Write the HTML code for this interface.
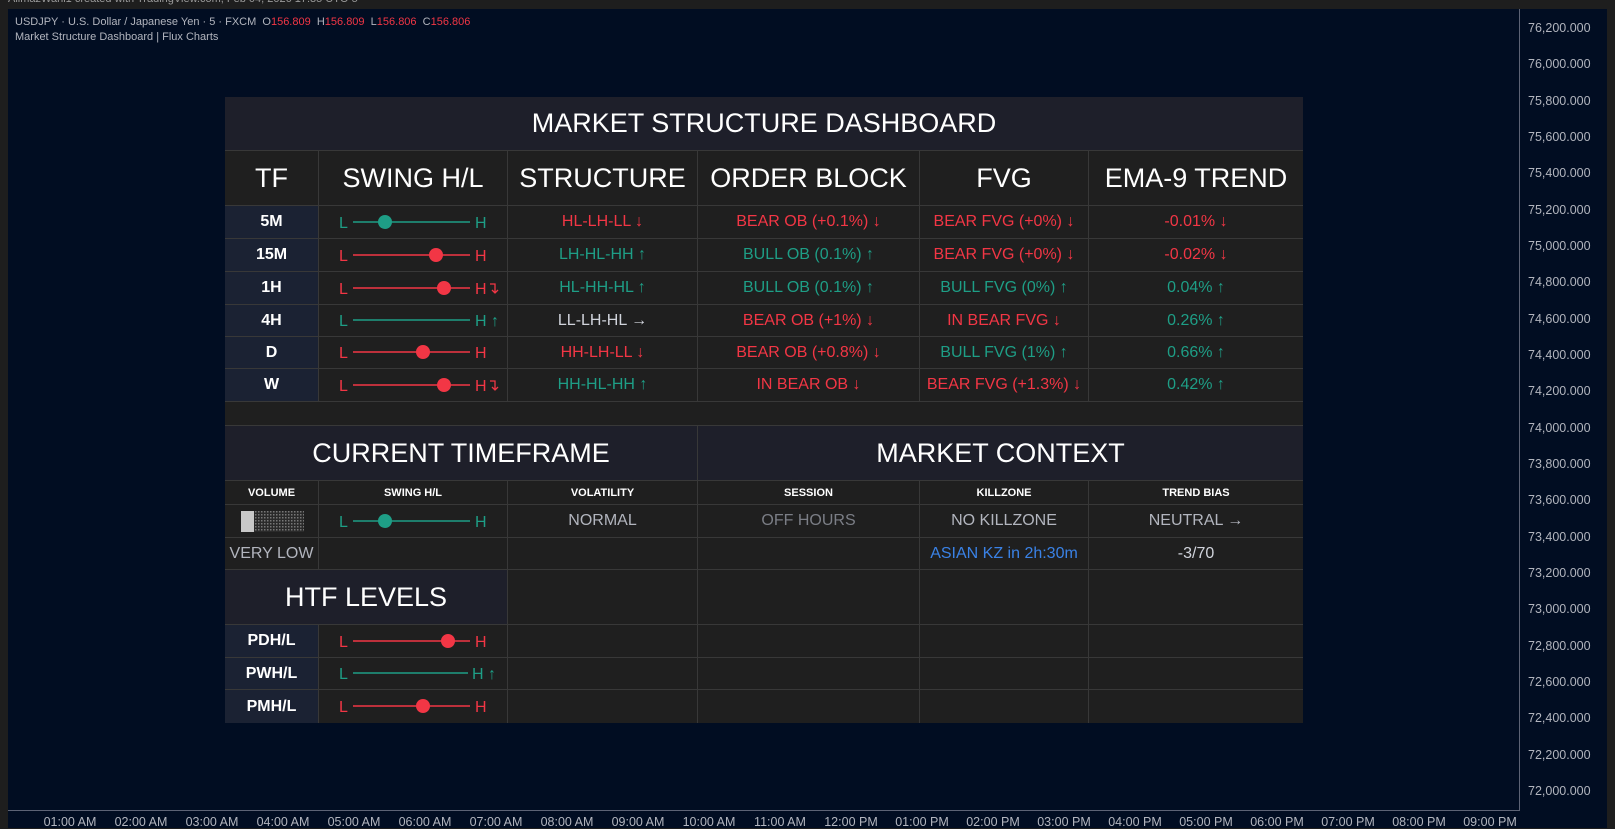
<!DOCTYPE html>
<html><head><meta charset="utf-8"><style>
*{margin:0;padding:0;box-sizing:border-box}
body{width:1615px;height:828px;background:#1e1e1e;position:relative;overflow:hidden;font-family:"Liberation Sans","DejaVu Sans",sans-serif}
.chart{position:absolute;left:8px;top:9px;width:1599px;height:819px;background:#010d22}
.vax{position:absolute;left:1519px;top:9px;width:1px;height:802px;background:#5d6375}
.hax{position:absolute;left:8px;top:810px;width:1511px;height:1px;background:#5d6375}
.pl{position:absolute;left:1528px;color:#b2b5be;font-size:12.5px}
.tl{position:absolute;top:815px;color:#b2b5be;font-size:12.5px;width:80px;text-align:center}
.leg{position:absolute;left:15px;color:#b2b5be;font-size:11px;white-space:nowrap}
.r{color:#f23645}
#t{position:absolute;left:225px;top:97px;width:1078px;height:626px;background:#383838}
.c{position:absolute;background:#1f1f1f;display:flex;align-items:center;justify-content:center;font-size:16px;color:#b2b5be;white-space:nowrap}
.hd{background:#1e1f2a;color:#fff;font-size:27px}
.h2{color:#fff;font-size:27px}
.tf{background:#1b2233;color:#fff;font-weight:bold;font-size:16px}
.sb{color:#fff;font-size:11px;font-weight:bold}
.R{color:#f23645}.G{color:#1e9e86}.W{color:#d1d4dc}.B{color:#3a82e6}
svg text{font-family:"Liberation Sans",sans-serif;font-size:16px}
</style></head><body>
<div style="position:absolute;left:8px;top:-7px;color:#9a9a9a;font-size:11px">AlimazWani1 created with TradingView.com, Feb 04, 2026 17:35 UTC-5</div>
<div class="chart"></div>
<div class="vax"></div><div class="hax"></div>
<div class="leg" style="top:16px">USDJPY · U.S. Dollar / Japanese Yen · 5 · FXCM &nbsp;O<span class="r">156.809</span> &nbsp;H<span class="r">156.809</span> &nbsp;L<span class="r">156.806</span> &nbsp;C<span class="r">156.806</span></div>
<div class="leg" style="top:31px">Market Structure Dashboard | Flux Charts</div>

<div class="pl" style="top:21px">76,200.000</div>
<div class="pl" style="top:57px">76,000.000</div>
<div class="pl" style="top:94px">75,800.000</div>
<div class="pl" style="top:130px">75,600.000</div>
<div class="pl" style="top:166px">75,400.000</div>
<div class="pl" style="top:203px">75,200.000</div>
<div class="pl" style="top:239px">75,000.000</div>
<div class="pl" style="top:275px">74,800.000</div>
<div class="pl" style="top:312px">74,600.000</div>
<div class="pl" style="top:348px">74,400.000</div>
<div class="pl" style="top:384px">74,200.000</div>
<div class="pl" style="top:421px">74,000.000</div>
<div class="pl" style="top:457px">73,800.000</div>
<div class="pl" style="top:493px">73,600.000</div>
<div class="pl" style="top:530px">73,400.000</div>
<div class="pl" style="top:566px">73,200.000</div>
<div class="pl" style="top:602px">73,000.000</div>
<div class="pl" style="top:639px">72,800.000</div>
<div class="pl" style="top:675px">72,600.000</div>
<div class="pl" style="top:711px">72,400.000</div>
<div class="pl" style="top:748px">72,200.000</div>
<div class="pl" style="top:784px">72,000.000</div>

<div class="tl" style="left:30px">01:00 AM</div>
<div class="tl" style="left:101px">02:00 AM</div>
<div class="tl" style="left:172px">03:00 AM</div>
<div class="tl" style="left:243px">04:00 AM</div>
<div class="tl" style="left:314px">05:00 AM</div>
<div class="tl" style="left:385px">06:00 AM</div>
<div class="tl" style="left:456px">07:00 AM</div>
<div class="tl" style="left:527px">08:00 AM</div>
<div class="tl" style="left:598px">09:00 AM</div>
<div class="tl" style="left:669px">10:00 AM</div>
<div class="tl" style="left:740px">11:00 AM</div>
<div class="tl" style="left:811px">12:00 PM</div>
<div class="tl" style="left:882px">01:00 PM</div>
<div class="tl" style="left:953px">02:00 PM</div>
<div class="tl" style="left:1024px">03:00 PM</div>
<div class="tl" style="left:1095px">04:00 PM</div>
<div class="tl" style="left:1166px">05:00 PM</div>
<div class="tl" style="left:1237px">06:00 PM</div>
<div class="tl" style="left:1308px">07:00 PM</div>
<div class="tl" style="left:1379px">08:00 PM</div>
<div class="tl" style="left:1450px">09:00 PM</div>

<div id="t">
<div class="c hd" style="left:0;top:0;width:1078px;height:53px">MARKET STRUCTURE DASHBOARD</div>
<div class="c h2" style="left:0;top:54px;width:93px;height:54px">TF</div>
<div class="c h2" style="left:94px;top:54px;width:188px;height:54px">SWING H/L</div>
<div class="c h2" style="left:283px;top:54px;width:189px;height:54px">STRUCTURE</div>
<div class="c h2" style="left:473px;top:54px;width:221px;height:54px">ORDER BLOCK</div>
<div class="c h2" style="left:695px;top:54px;width:168px;height:54px">FVG</div>
<div class="c h2" style="left:864px;top:54px;width:214px;height:54px">EMA-9 TREND</div>

<div class="c tf" style="left:0;top:109px;width:93px;height:32px">5M</div>
<div class="c" style="left:94px;top:109px;width:188px;height:32px"><svg width="188" height="32"><text x="20" y="22" fill="#1e9e86">L</text><line x1="34" y1="16" x2="151" y2="16" stroke="#1e9e86" stroke-width="1.5"/><circle cx="66" cy="16" r="7" fill="#1e9e86"/><text x="156" y="22" fill="#1e9e86">H</text></svg></div>
<div class="c R" style="left:283px;top:109px;width:189px;height:32px">HL-LH-LL ↓</div>
<div class="c R" style="left:473px;top:109px;width:221px;height:32px">BEAR OB (+0.1%) ↓</div>
<div class="c R" style="left:695px;top:109px;width:168px;height:32px">BEAR FVG (+0%) ↓</div>
<div class="c R" style="left:864px;top:109px;width:214px;height:32px">-0.01% ↓</div>

<div class="c tf" style="left:0;top:142px;width:93px;height:32px">15M</div>
<div class="c" style="left:94px;top:142px;width:188px;height:32px"><svg width="188" height="32"><text x="20" y="22" fill="#f23645">L</text><line x1="34" y1="16" x2="151" y2="16" stroke="#f23645" stroke-width="1.5"/><circle cx="117" cy="16" r="7" fill="#f23645"/><text x="156" y="22" fill="#f23645">H</text></svg></div>
<div class="c G" style="left:283px;top:142px;width:189px;height:32px">LH-HL-HH ↑</div>
<div class="c G" style="left:473px;top:142px;width:221px;height:32px">BULL OB (0.1%) ↑</div>
<div class="c R" style="left:695px;top:142px;width:168px;height:32px">BEAR FVG (+0%) ↓</div>
<div class="c R" style="left:864px;top:142px;width:214px;height:32px">-0.02% ↓</div>

<div class="c tf" style="left:0;top:175px;width:93px;height:32px">1H</div>
<div class="c" style="left:94px;top:175px;width:188px;height:32px"><svg width="188" height="32"><text x="20" y="22" fill="#f23645">L</text><line x1="34" y1="16" x2="151" y2="16" stroke="#f23645" stroke-width="1.5"/><circle cx="125" cy="16" r="7" fill="#f23645"/><text x="156" y="22" fill="#f23645">H</text><path d="M171 12 H176 V21 M173 18 L176 21 L179 18" stroke="#f23645" stroke-width="1.3" fill="none"/></svg></div>
<div class="c G" style="left:283px;top:175px;width:189px;height:32px">HL-HH-HL ↑</div>
<div class="c G" style="left:473px;top:175px;width:221px;height:32px">BULL OB (0.1%) ↑</div>
<div class="c G" style="left:695px;top:175px;width:168px;height:32px">BULL FVG (0%) ↑</div>
<div class="c G" style="left:864px;top:175px;width:214px;height:32px">0.04% ↑</div>

<div class="c tf" style="left:0;top:208px;width:93px;height:31px">4H</div>
<div class="c" style="left:94px;top:208px;width:188px;height:31px"><svg width="188" height="31"><text x="20" y="21" fill="#1e9e86">L</text><line x1="34" y1="15" x2="151" y2="15" stroke="#1e9e86" stroke-width="1.5"/><text x="156" y="21" fill="#1e9e86">H ↑</text></svg></div>
<div class="c W" style="left:283px;top:208px;width:189px;height:31px">LL-LH-HL →</div>
<div class="c R" style="left:473px;top:208px;width:221px;height:31px">BEAR OB (+1%) ↓</div>
<div class="c R" style="left:695px;top:208px;width:168px;height:31px">IN BEAR FVG ↓</div>
<div class="c G" style="left:864px;top:208px;width:214px;height:31px">0.26% ↑</div>

<div class="c tf" style="left:0;top:240px;width:93px;height:31px">D</div>
<div class="c" style="left:94px;top:240px;width:188px;height:31px"><svg width="188" height="31"><text x="20" y="21" fill="#f23645">L</text><line x1="34" y1="15" x2="151" y2="15" stroke="#f23645" stroke-width="1.5"/><circle cx="104" cy="15" r="7" fill="#f23645"/><text x="156" y="21" fill="#f23645">H</text></svg></div>
<div class="c R" style="left:283px;top:240px;width:189px;height:31px">HH-LH-LL ↓</div>
<div class="c R" style="left:473px;top:240px;width:221px;height:31px">BEAR OB (+0.8%) ↓</div>
<div class="c G" style="left:695px;top:240px;width:168px;height:31px">BULL FVG (1%) ↑</div>
<div class="c G" style="left:864px;top:240px;width:214px;height:31px">0.66% ↑</div>

<div class="c tf" style="left:0;top:272px;width:93px;height:32px">W</div>
<div class="c" style="left:94px;top:272px;width:188px;height:32px"><svg width="188" height="32"><text x="20" y="22" fill="#f23645">L</text><line x1="34" y1="16" x2="151" y2="16" stroke="#f23645" stroke-width="1.5"/><circle cx="125" cy="16" r="7" fill="#f23645"/><text x="156" y="22" fill="#f23645">H</text><path d="M171 12 H176 V21 M173 18 L176 21 L179 18" stroke="#f23645" stroke-width="1.3" fill="none"/></svg></div>
<div class="c G" style="left:283px;top:272px;width:189px;height:32px">HH-HL-HH ↑</div>
<div class="c R" style="left:473px;top:272px;width:221px;height:32px">IN BEAR OB ↓</div>
<div class="c R" style="left:695px;top:272px;width:168px;height:32px">BEAR FVG (+1.3%) ↓</div>
<div class="c G" style="left:864px;top:272px;width:214px;height:32px">0.42% ↑</div>

<div class="c" style="left:0;top:305px;width:1078px;height:23px"></div>

<div class="c hd" style="left:0;top:329px;width:472px;height:54px">CURRENT TIMEFRAME</div>
<div class="c hd" style="left:473px;top:329px;width:605px;height:54px">MARKET CONTEXT</div>

<div class="c sb" style="left:0;top:384px;width:93px;height:23px">VOLUME</div>
<div class="c sb" style="left:94px;top:384px;width:188px;height:23px">SWING H/L</div>
<div class="c sb" style="left:283px;top:384px;width:189px;height:23px">VOLATILITY</div>
<div class="c sb" style="left:473px;top:384px;width:221px;height:23px">SESSION</div>
<div class="c sb" style="left:695px;top:384px;width:168px;height:23px">KILLZONE</div>
<div class="c sb" style="left:864px;top:384px;width:214px;height:23px">TREND BIAS</div>

<div class="c" style="left:0;top:408px;width:93px;height:32px"><svg width="93" height="32"><defs><pattern id="p" width="3" height="3" patternUnits="userSpaceOnUse"><rect width="3" height="3" fill="#2a2a2a"/><rect width="1.5" height="1.5" fill="#777"/></pattern></defs><rect x="16" y="6" width="13" height="21" fill="#c8c8c8"/><rect x="29" y="6" width="50" height="21" fill="url(#p)"/></svg></div>
<div class="c" style="left:94px;top:408px;width:188px;height:32px"><svg width="188" height="32"><text x="20" y="22" fill="#1e9e86">L</text><line x1="34" y1="16" x2="151" y2="16" stroke="#1e9e86" stroke-width="1.5"/><circle cx="66" cy="16" r="7" fill="#1e9e86"/><text x="156" y="22" fill="#1e9e86">H</text></svg></div>
<div class="c" style="left:283px;top:408px;width:189px;height:32px">NORMAL</div>
<div class="c" style="left:473px;top:408px;width:221px;height:32px;color:#7b7e86">OFF HOURS</div>
<div class="c" style="left:695px;top:408px;width:168px;height:32px">NO KILLZONE</div>
<div class="c" style="left:864px;top:408px;width:214px;height:32px">NEUTRAL →</div>

<div class="c" style="left:0;top:441px;width:93px;height:31px">VERY LOW</div>
<div class="c" style="left:94px;top:441px;width:188px;height:31px"></div>
<div class="c" style="left:283px;top:441px;width:189px;height:31px"></div>
<div class="c" style="left:473px;top:441px;width:221px;height:31px"></div>
<div class="c B" style="left:695px;top:441px;width:168px;height:31px">ASIAN KZ in 2h:30m</div>
<div class="c W" style="left:864px;top:441px;width:214px;height:31px">-3/70</div>

<div class="c hd" style="left:0;top:473px;width:282px;height:54px">HTF LEVELS</div>
<div class="c" style="left:283px;top:473px;width:189px;height:54px"></div>
<div class="c" style="left:473px;top:473px;width:221px;height:54px"></div>
<div class="c" style="left:695px;top:473px;width:168px;height:54px"></div>
<div class="c" style="left:864px;top:473px;width:214px;height:54px"></div>

<div class="c tf" style="left:0;top:528px;width:93px;height:32px">PDH/L</div>
<div class="c" style="left:94px;top:528px;width:188px;height:32px"><svg width="188" height="32"><text x="20" y="22" fill="#f23645">L</text><line x1="34" y1="16" x2="151" y2="16" stroke="#f23645" stroke-width="1.5"/><circle cx="129" cy="16" r="7" fill="#f23645"/><text x="156" y="22" fill="#f23645">H</text></svg></div>
<div class="c tf" style="left:0;top:561px;width:93px;height:31px">PWH/L</div>
<div class="c" style="left:94px;top:561px;width:188px;height:31px"><svg width="188" height="31"><text x="20" y="21" fill="#1e9e86">L</text><line x1="34" y1="15" x2="149" y2="15" stroke="#1e9e86" stroke-width="1.5"/><text x="153" y="21" fill="#1e9e86">H ↑</text></svg></div>
<div class="c tf" style="left:0;top:593px;width:93px;height:33px">PMH/L</div>
<div class="c" style="left:94px;top:593px;width:188px;height:33px"><svg width="188" height="33"><text x="20" y="22" fill="#f23645">L</text><line x1="34" y1="16" x2="151" y2="16" stroke="#f23645" stroke-width="1.5"/><circle cx="104" cy="16" r="7" fill="#f23645"/><text x="156" y="22" fill="#f23645">H</text></svg></div>
<div class="c" style="left:283px;top:528px;width:189px;height:32px"></div><div class="c" style="left:473px;top:528px;width:221px;height:32px"></div><div class="c" style="left:695px;top:528px;width:168px;height:32px"></div><div class="c" style="left:864px;top:528px;width:214px;height:32px"></div>
<div class="c" style="left:283px;top:561px;width:189px;height:31px"></div><div class="c" style="left:473px;top:561px;width:221px;height:31px"></div><div class="c" style="left:695px;top:561px;width:168px;height:31px"></div><div class="c" style="left:864px;top:561px;width:214px;height:31px"></div>
<div class="c" style="left:283px;top:593px;width:189px;height:33px"></div><div class="c" style="left:473px;top:593px;width:221px;height:33px"></div><div class="c" style="left:695px;top:593px;width:168px;height:33px"></div><div class="c" style="left:864px;top:593px;width:214px;height:33px"></div>
</div>
</body></html>
